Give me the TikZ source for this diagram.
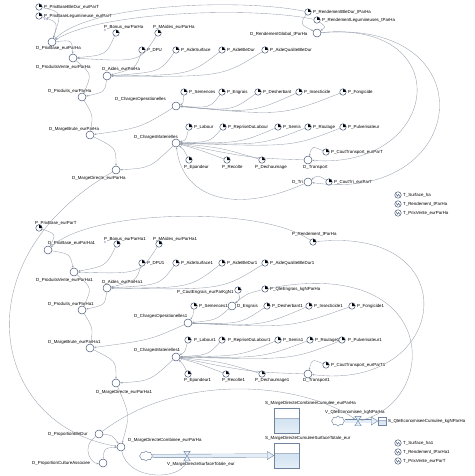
\documentclass[tikz,border=0pt]{standalone}
\usepackage{fontspec}
\setmainfont{Liberation Sans}
\usetikzlibrary{positioning, calc, arrows.meta, shapes.symbols}

\definecolor{linkcol}{RGB}{150,158,172}
\definecolor{nodecol}{RGB}{62,78,112}
\definecolor{valcol}{RGB}{72,84,160}
\definecolor{stockfill}{RGB}{196,218,236}
\definecolor{pipecol}{RGB}{112,132,160}
\definecolor{pipefill}{RGB}{228,238,248}

\tikzset{
  lbl/.style={anchor=west, inner sep=0pt, font=\fontsize{4.4}{5}\selectfont},
  val/.style={anchor=north west, inner sep=0pt, yshift=-0.3pt, text=valcol, font=\fontsize{3}{3.5}\selectfont},
  auxnode/.style={circle, draw=nodecol, line width=0.45pt, fill=white, minimum size=8pt, inner sep=0pt},
  cstnode/.style={circle, draw=nodecol, line width=0.45pt, fill=white, minimum size=6.5pt, inner sep=0pt,
    path picture={\fill[black] (path picture bounding box.center) -- ++(0pt,3.4pt) arc[start angle=90, end angle=0, radius=3.4pt] -- cycle;}},
  tabnode/.style={circle, draw=nodecol, line width=0.45pt, fill=white, minimum size=6.5pt, inner sep=0pt,
    path picture={\draw[nodecol, line width=0.4pt] ([shift={(-2pt,1.4pt)}]path picture bounding box.center) -- ([shift={(-0.6pt,-1.2pt)}]path picture bounding box.center) -- ([shift={(0.7pt,0.6pt)}]path picture bounding box.center) -- ([shift={(2pt,-1.6pt)}]path picture bounding box.center);}},
  link/.style={draw=linkcol, line width=0.35pt, -{Stealth[length=2.2pt, width=1.8pt]}},
  stock/.style={rectangle, draw=pipecol, line width=0.45pt, minimum width=25pt, minimum height=25pt, inner sep=0pt,
    path picture={\shade[top color=stockfill, bottom color=stockfill!45] ($(path picture bounding box.south west)!0.6!(path picture bounding box.north west)$) rectangle (path picture bounding box.south east);
      \draw[pipecol!60] ($(path picture bounding box.south west)!0.6!(path picture bounding box.north west)$) -- ($(path picture bounding box.south east)!0.6!(path picture bounding box.north east)$);}},
  source/.style={cloud, cloud puffs=8, draw=pipecol, line width=0.45pt, fill=white, minimum width=13pt, minimum height=10pt, inner sep=0pt},
  pipe/.style={draw=pipecol, line width=0.4pt, double=pipefill, double distance=3pt}
}

\newcommand{\cstvar}[5]{\node[cstnode] (#1) at (#2) {}; \node[lbl] (#1l) at (#3) {#4}; \node[val] (#1v) at (#1l.south west) {#5};}
\newcommand{\auxvar}[5]{\node[auxnode] (#1) at (#2) {}; \node[lbl] (#1l) at (#3) {#4}; \node[val] (#1v) at (#1l.south west) {#5};}
\newcommand{\tabvar}[3]{\node[tabnode] (#1) at (#2) {}; \node[lbl, right=1.5pt of #1] (#1l) {#3};}
\newcommand{\valve}[2]{\node[inner sep=0pt, minimum width=6pt, minimum height=9pt] (#1) at (#2) {};
  \draw[pipecol, fill=pipefill, line width=0.4pt] (#1.north west) -- (#1.north east) -- (#1.south west) -- (#1.south east) -- cycle;}
\newcommand{\pipeflow}[2]{\draw[pipe] (#1) -- ($(#2)+(-6,0)$);
  \draw[pipecol, fill=pipefill, line width=0.4pt] ($(#2)+(-6.5,-4)$) -- (#2) -- ($(#2)+(-6.5,4)$) -- cycle;}

\begin{document}
\begin{tikzpicture}[x=1pt, y=-1pt]
\useasboundingbox (0,0) rectangle (474,476);

% first crop
\cstvar{pbbd}{39,7}{44,7}{P\_PrixBaseBleDur\_eurParT}{}
\cstvar{pbl}{39,16}{44,16}{P\_PrixBaseLegumineuse\_eurParT}{1.8}
\cstvar{bonus}{116,33}{104,27}{P\_Bonus\_eurParHa}{0}
\cstvar{maides}{158,33}{153,27}{P\_MAides\_eurParHa}{}
\cstvar{dpu}{142,50}{147,50}{P\_DPU}{}
\cstvar{asurf}{176,50}{181,50}{P\_AideSurface}{}
\cstvar{abd}{222,50}{227,50}{P\_AideBleDur}{}
\cstvar{aqbd}{265,50}{270,50}{P\_AideQualiteBleDur}{}
\cstvar{sem}{184,92}{189,92}{P\_Semences}{}
\cstvar{engr}{222,92}{227,92}{P\_Engrais}{}
\cstvar{desh}{258,92}{263,92}{P\_Desherbant}{}
\cstvar{insect}{299,92}{304,92}{P\_Insecticide}{}
\cstvar{fong}{343,92}{348,92}{P\_Fongicide}{}
\cstvar{rbd}{308,12}{313,12}{P\_RendementBleDur\_tParHa}{}
\cstvar{rleg}{317,20}{322,20}{P\_RendementLegumineuses\_tParHa}{}
\cstvar{lab}{189,127}{194,127}{P\_Labour}{}
\cstvar{rdl}{223,127}{228,127}{P\_RepriseDuLabour}{}
\cstvar{semis}{278,127}{283,127}{P\_Semis}{}
\cstvar{roul}{308,127}{313,127}{P\_Roulage}{}
\cstvar{pulv}{343,127}{348,127}{P\_Pulverisateur}{}
\cstvar{epan}{189,160}{184,167}{P\_Epandeur}{}
\cstvar{recol}{227,160}{222,167}{P\_Recolte}{}
\cstvar{dech}{262,160}{255,167}{P\_Dechaumage}{}
\cstvar{ctr}{326,152}{331,152}{P\_CoutTransport\_eurParT}{}
\cstvar{ctri}{329,182}{334,182}{P\_CoutTri\_eurParT}{}

\auxvar{dpb}{52,42}{36,48}{D\_PrixBase\_eurParHa}{}
\auxvar{dpv}{73,58}{36,67}{D\_ProduitsVente\_eurParHa}{}
\auxvar{daid}{107,76}{102,69}{D\_Aides\_eurParHa}{}
\auxvar{dprod}{82,97}{48,91}{D\_Produits\_eurParHa}{}
\auxvar{dco}{176,106}{115,99}{D\_ChargesOperationelles}{}
\auxvar{drg}{317,33}{250,34}{D\_RendementGlobal\_tParHa}{}
\auxvar{dmb}{90,135}{49,129}{D\_MargeBrute\_eurParHa}{}
\auxvar{dcm}{176,143}{134,137}{D\_ChargesMaterielles}{}
\auxvar{dmd}{116,170}{72,178}{D\_MargeDirecte\_eurParHa}{}
\auxvar{dtr}{308,160}{303,167}{D\_Transport}{}
\auxvar{dtri}{308,182}{292,182}{D\_Tri}{}

\tabvar{tsurf}{398,195}{T\_Surface\_ha}
\tabvar{trend}{398,204}{T\_Rendement\_tParHa}
\tabvar{tprix}{398,213}{T\_PrixVente\_eurParHa}

% second crop
\cstvar{ppbt}{39,228}{35,223}{P\_PrixBase\_eurParT}{}
\cstvar{prt}{313,242}{292,234}{P\_Rendement\_tParHa}{}
\cstvar{bonus1}{117,244}{104,239}{P\_Bonus\_eurParHa1}{0}
\cstvar{maides1}{159,244}{153,239}{P\_MAides\_eurParHa1}{}
\cstvar{dpu1}{142,263}{147,263}{P\_DPU1}{}
\cstvar{asurf1}{176,263}{181,263}{P\_AideSurface1}{}
\cstvar{abd1}{222,263}{227,263}{P\_AideBleDur1}{}
\cstvar{aqbd1}{265,263}{270,263}{P\_AideQualiteBleDur1}{}
\cstvar{cengr1}{238,290}{177,292}{P\_CoutEngrais\_eurParKgN1}{}
\cstvar{qengr}{265,289}{270,289}{P\_QteEngrais\_kgNParHa}{}
\cstvar{sem1}{194,306}{199,306}{P\_Semences1}{}
\cstvar{desh1}{267,306}{272,306}{P\_Desherbant1}{}
\cstvar{insect1}{309,306}{314,306}{P\_Insecticide1}{}
\cstvar{fong1}{352,306}{357,306}{P\_Fongicide1}{}
\cstvar{lab1}{188,340}{194,340}{P\_Labour1}{}
\cstvar{rdl1}{222,340}{228,340}{P\_RepriseDuLabour1}{}
\cstvar{semis1}{278,340}{283,340}{P\_Semis1}{}
\cstvar{roul1}{310,340}{315,340}{P\_Roulage1}{}
\cstvar{pulv1}{342,340}{348,340}{P\_Pulverisateur1}{}
\cstvar{epan1}{188,374}{184,380}{P\_Epandeur1}{}
\cstvar{recol1}{226,374}{222,380}{P\_Recolte1}{}
\cstvar{dech1}{262,374}{255,380}{P\_Dechaumage1}{}
\cstvar{ctr1}{326,365}{331,365}{P\_CoutTransport\_eurParT1}{}

\auxvar{dpb1}{48,250}{48,243}{D\_PrixBase\_eurParHa1}{}
\auxvar{dpv1}{74,272}{36,280}{D\_ProduitsVente\_eurParHa1}{}
\auxvar{daid1}{107,288}{102,282}{D\_Aides\_eurParHa1}{}
\auxvar{dprod1}{82,310}{48,304}{D\_Produits\_eurParHa1}{}
\auxvar{dengr}{232,306}{237,306}{D\_Engrais}{}
\auxvar{dco1}{188,323}{134,316}{D\_ChargesOperationelles1}{}
\auxvar{dmb1}{90,348}{48,342}{D\_MargeBrute\_eurParHa1}{}
\auxvar{dcm1}{176,357}{134,350}{D\_ChargesMaterielles1}{}
\auxvar{dtr1}{308,374}{303,380}{D\_Transport1}{}
\auxvar{dmd1}{116,383}{96,392}{D\_MargeDirecte\_eurParHa1}{}
\auxvar{dpbd}{99,434}{48,434}{D\_ProportionBleDur}{}
\auxvar{dmdc}{121,447}{128,440}{D\_MargeDirecteCombinee\_eurParHa}{}
\auxvar{dpca}{103,463}{32,463}{D\_ProportionCultureAssociee}{}

\tabvar{tsurf1}{398,443}{T\_Surface\_ha1}
\tabvar{trend1}{398,452}{T\_Rendement\_tParHa1}
\tabvar{tprix1}{398,461}{T\_PrixVente\_eurParT}

% stocks and flows
\node[stock] (smdc) at (286.5,420.5) {};
\node[lbl] (smdcl) at (265,403) {S\_MargeDirecteCombineeCumulee\_eurParHa};
\node[stock] (smdst) at (286.5,455.5) {};
\node[lbl] (smdstl) at (265,438) {S\_MargeDirecteCumuleeSurfaceTotale\_eur};
\node[stock, minimum width=8pt, minimum height=8pt] (sqte) at (382,421) {};
\node[lbl] (sqtel) at (388,421) {S\_QteEconomiseeCumulee\_kgNParHa};
\node[source] (cl1) at (146,456) {};
\node[source] (cl2) at (338,421) {};
\pipeflow{cl1.east}{smdst.west}
\pipeflow{cl2.east}{sqte.west}
\valve{vmds}{187,456}
\valve{vqte}{358,421}
\node[lbl] (vmdsl) at (167,464) {V\_MargeDirecteSurfaceTotale\_eur};
\node[lbl] (vqtel) at (325,412) {V\_QteEconomisee\_kgNParHa};

% links first crop
\draw[link] (pbbd) .. controls (62,12) .. (dpb);
\draw[link] (pbl) .. controls (58,22) .. (dpb);
\draw[link] (rbd) .. controls (240,-2) and (90,4) .. (dpb);
\draw[link] (rleg) .. controls (250,6) and (100,12) .. (dpb);
\draw[link] (rbd) .. controls (300,24) .. (drg);
\draw[link] (rleg) .. controls (326,27) .. (drg);
\draw[link] (drg) .. controls (460,20) and (440,170) .. (dtr);
\draw[link] (drg) .. controls (490,18) and (470,205) .. (dtri);
\draw[link] (dpb) .. controls (72,40) .. (dpv);
\draw[link] (bonus) .. controls (106,55) .. (dpv);
\draw[link] (maides) .. controls (140,62) .. (dpv);
\draw[link] (dpv) .. controls (92,74) .. (dprod);
\draw[link] (daid) .. controls (105,92) .. (dprod);
\draw[link] (dpu) .. controls (136,68) .. (daid);
\draw[link] (asurf) .. controls (160,72) .. (daid);
\draw[link] (abd) .. controls (190,75) .. (daid);
\draw[link] (aqbd) .. controls (222,77) .. (daid);
\draw[link] (dprod) .. controls (93,115) .. (dmb);
\draw[link] (dco) .. controls (140,128) .. (dmb);
\draw[link] (sem) .. controls (183,104) .. (dco);
\draw[link] (engr) .. controls (210,108) .. (dco);
\draw[link] (desh) .. controls (232,111) .. (dco);
\draw[link] (insect) .. controls (252,113) .. (dco);
\draw[link] (fong) .. controls (282,116) .. (dco);
\draw[link] (dmb) .. controls (116,148) .. (dmd);
\draw[link] (dcm) .. controls (150,168) .. (dmd);
\draw[link] (lab) .. controls (186,140) .. (dcm);
\draw[link] (rdl) .. controls (210,142) .. (dcm);
\draw[link] (semis) .. controls (240,143) .. (dcm);
\draw[link] (roul) .. controls (262,145) .. (dcm);
\draw[link] (pulv) .. controls (292,147) .. (dcm);
\draw[link] (epan) .. controls (184,150) .. (dcm);
\draw[link] (recol) .. controls (200,150) .. (dcm);
\draw[link] (dech) .. controls (222,148) .. (dcm);
\draw[link] (dtr) .. controls (250,158) .. (dcm);
\draw[link] (dtri) .. controls (232,216) and (182,196) .. (dcm);
\draw[link] (ctr) .. controls (312,146) .. (dtr);
\draw[link] (ctri) .. controls (318,175) .. (dtri);
\draw[link] (dmd) .. controls (-40,260) and (-10,425) .. (dmdc);

% links second crop
\draw[link] (ppbt) .. controls (56,234) .. (dpb1);
\draw[link] (prt) .. controls (260,205) and (90,210) .. (dpb1);
\draw[link] (prt) .. controls (470,225) and (450,392) .. (dtr1);
\draw[link] (dpb1) .. controls (70,254) .. (dpv1);
\draw[link] (bonus1) .. controls (106,266) .. (dpv1);
\draw[link] (maides1) .. controls (140,274) .. (dpv1);
\draw[link] (dpv1) .. controls (92,288) .. (dprod1);
\draw[link] (daid1) .. controls (105,305) .. (dprod1);
\draw[link] (dpu1) .. controls (136,281) .. (daid1);
\draw[link] (asurf1) .. controls (160,285) .. (daid1);
\draw[link] (abd1) .. controls (190,288) .. (daid1);
\draw[link] (aqbd1) .. controls (222,290) .. (daid1);
\draw[link] (cengr1) .. controls (240,299) .. (dengr);
\draw[link] (qengr) .. controls (246,294) .. (dengr);
\draw[link] (sem1) .. controls (193,316) .. (dco1);
\draw[link] (dengr) .. controls (216,320) .. (dco1);
\draw[link] (desh1) .. controls (240,324) .. (dco1);
\draw[link] (insect1) .. controls (262,326) .. (dco1);
\draw[link] (fong1) .. controls (290,328) .. (dco1);
\draw[link] (qengr) .. controls (440,255) and (440,400) .. (vqte);
\draw[link] (dprod1) .. controls (93,328) .. (dmb1);
\draw[link] (dco1) .. controls (150,340) .. (dmb1);
\draw[link] (lab1) .. controls (185,352) .. (dcm1);
\draw[link] (rdl1) .. controls (208,355) .. (dcm1);
\draw[link] (semis1) .. controls (240,356) .. (dcm1);
\draw[link] (roul1) .. controls (262,358) .. (dcm1);
\draw[link] (pulv1) .. controls (292,360) .. (dcm1);
\draw[link] (epan1) .. controls (183,364) .. (dcm1);
\draw[link] (recol1) .. controls (200,364) .. (dcm1);
\draw[link] (dech1) .. controls (222,362) .. (dcm1);
\draw[link] (dtr1) .. controls (250,372) .. (dcm1);
\draw[link] (ctr1) .. controls (312,359) .. (dtr1);
\draw[link] (dmb1) .. controls (116,361) .. (dmd1);
\draw[link] (dcm1) .. controls (150,381) .. (dmd1);
\draw[link] (dmd1) .. controls (130,415) .. (dmdc);
\draw[link] (dpbd) .. controls (112,435) .. (dmdc);
\draw[link] (dpbd) .. controls (80,448) and (92,464) .. (dpca);
\draw[link] (dpca) .. controls (104,448) .. (dmdc);
\draw[link] (dpbd) .. controls (180,372) and (300,382) .. (vqte);
\draw[link] (dmdc) .. controls (128,482) and (182,480) .. (vmds);
\end{tikzpicture}
\end{document}
